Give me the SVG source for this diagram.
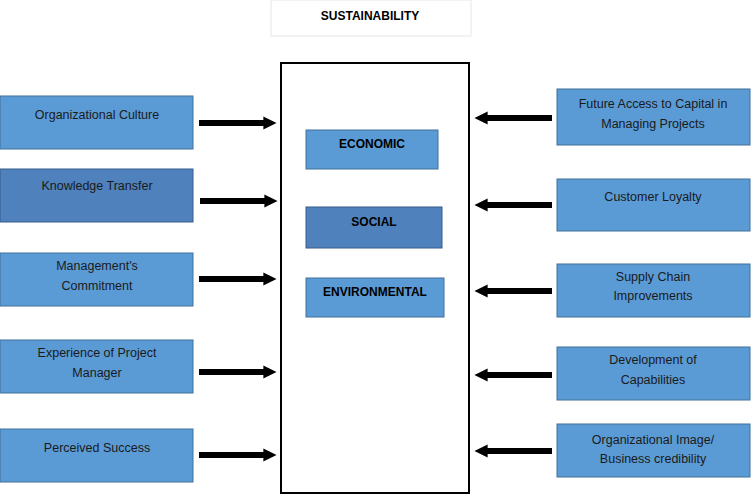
<svg xmlns="http://www.w3.org/2000/svg" width="752" height="496" viewBox="0 0 752 496">
<style>
.b{fill:#5B9BD5;stroke:#41719C;stroke-width:1}
.d{fill:#4F81BD;stroke:#385D8A;stroke-width:1}
text{font-family:"Liberation Sans",Arial,sans-serif;font-size:12.5px;fill:#1a1a1a;text-anchor:middle}
.h{font-weight:bold;font-size:12px;fill:#000}
.a{stroke:#000;stroke-width:6;fill:none;marker-end:url(#m)}
</style>
<defs><marker id="m" viewBox="0 0 10 10" refX="2" refY="5" markerWidth="2.2" markerHeight="2.6" orient="auto" markerUnits="strokeWidth"><path d="M0,0L10,5L0,10z" fill="#000"/></marker></defs>
<rect width="752" height="496" fill="#fff"/>
<g id="title"><rect x="271" y="0" width="200" height="36" fill="#fff" stroke="#e6e6e6"/><text class="h" x="370" y="20">SUSTAINABILITY</text></g>
<g id="center"><rect x="281" y="63" width="188" height="430" fill="#fff" stroke="#000" stroke-width="2"/></g>
<g id="economic"><rect class="b" x="306" y="130" width="132" height="39"/><text class="h" x="372" y="148">ECONOMIC</text></g>
<g id="social"><rect class="d" x="306" y="207" width="136" height="41"/><text class="h" x="374" y="226">SOCIAL</text></g>
<g id="environmental"><rect class="b" x="306" y="278" width="138" height="39"/><text class="h" x="375" y="296">ENVIRONMENTAL</text></g>
<g id="l1"><rect class="b" x="0" y="96" width="193" height="53"/><text x="97" y="119">Organizational Culture</text></g>
<g id="l2"><rect class="d" x="0" y="169" width="193" height="53"/><text x="97" y="190">Knowledge Transfer</text></g>
<g id="l3"><rect class="b" x="0" y="253" width="193" height="53"/><text x="97" y="270">Management's</text><text x="97" y="290">Commitment</text></g>
<g id="l4"><rect class="b" x="0" y="340" width="193" height="53"/><text x="97" y="357">Experience of Project</text><text x="97" y="377">Manager</text></g>
<g id="l5"><rect class="b" x="0" y="429" width="193" height="53"/><text x="97" y="452">Perceived Success</text></g>
<g id="r1"><rect class="b" x="557" y="89" width="193" height="56"/><text x="653" y="108">Future Access to Capital in</text><text x="653" y="128">Managing Projects</text></g>
<g id="r2"><rect class="b" x="557" y="179" width="193" height="52"/><text x="653" y="201">Customer Loyalty</text></g>
<g id="r3"><rect class="b" x="557" y="264" width="193" height="53"/><text x="653" y="281">Supply Chain</text><text x="653" y="300">Improvements</text></g>
<g id="r4"><rect class="b" x="557" y="347" width="193" height="53"/><text x="653" y="364">Development of</text><text x="653" y="384">Capabilities</text></g>
<g id="r5"><rect class="b" x="557" y="424" width="193" height="53"/><text x="653" y="444">Organizational Image/</text><text x="653" y="463">Business credibility</text></g>
<g id="connectors">
<path class="a" d="M199,123H266"/><path class="a" d="M200,201H267"/><path class="a" d="M199,279H266"/><path class="a" d="M199,372H266"/><path class="a" d="M199,455H266"/>
<path class="a" d="M552,118H485"/><path class="a" d="M552,205H485"/><path class="a" d="M552,291H485"/><path class="a" d="M552,375H485"/><path class="a" d="M552,451H485"/>
</g>
</svg>
